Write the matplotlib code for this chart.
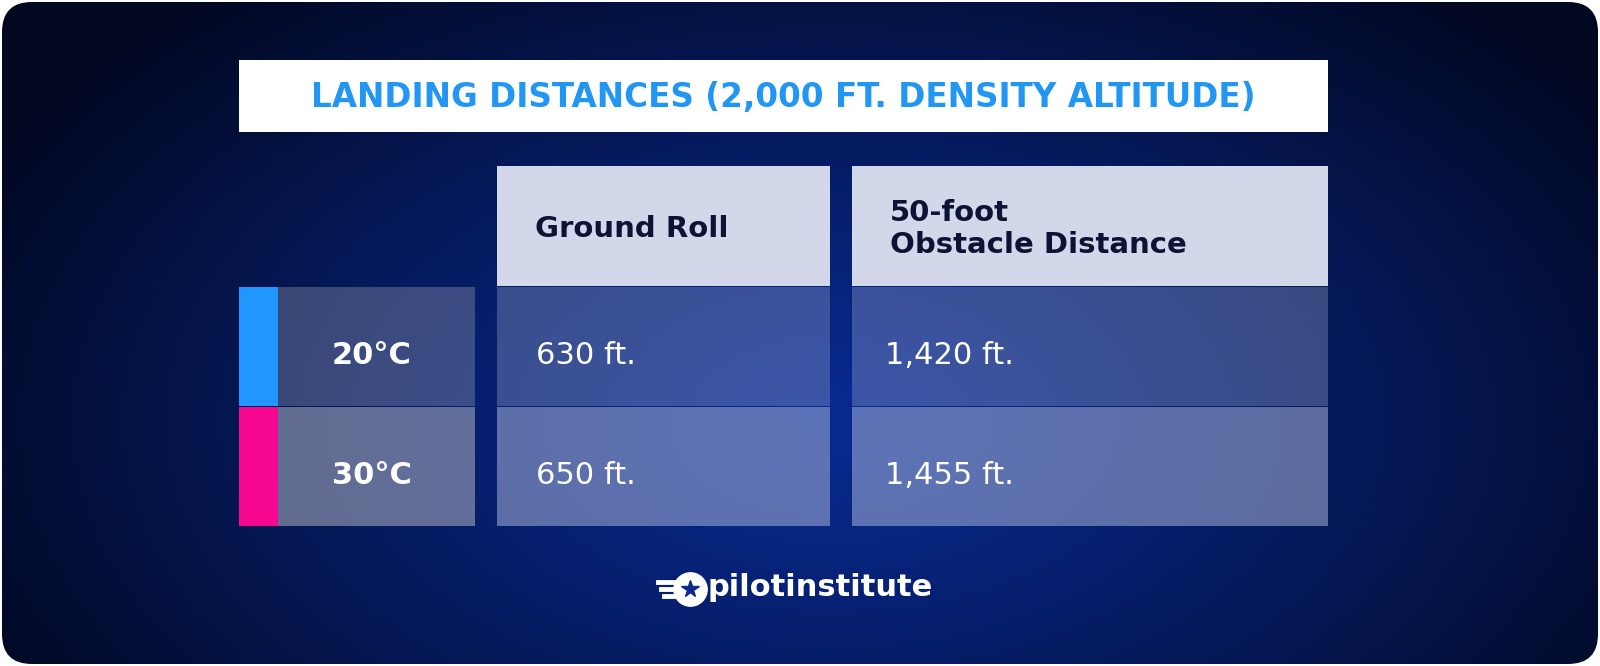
import numpy as np
import matplotlib
matplotlib.use("Agg")
import matplotlib.pyplot as plt
from matplotlib.patches import Rectangle, FancyBboxPatch

title = "LANDING DISTANCES (2,000 FT. DENSITY ALTITUDE)"
col_headers = ["Ground Roll", "50-foot\nObstacle Distance"]
row_labels = ["20°C", "30°C"]
row_colors = ["#2196ff", "#f5078f"]
ground_roll = ["630 ft.", "650 ft."]
obstacle = ["1,420 ft.", "1,455 ft."]
brand = "pilotinstitute"

W, H = 1600, 666
fig = plt.figure(figsize=(16, 6.66), dpi=100)
ax = fig.add_axes([0, 0, 1, 1])
ax.set_xlim(0, W); ax.set_ylim(H, 0); ax.axis("off")
fig.patch.set_facecolor("white")

# radial gradient background
yy, xx = np.mgrid[0:H, 0:W]
d = np.sqrt(((xx - 830) / 950) ** 2 + ((yy - 420) / 560) ** 2)
d = np.clip(d, 0, 1)
c_center = np.array([0x08, 0x2a, 0x90]) / 255
c_edge = np.array([0x02, 0x08, 0x22]) / 255
t = d[..., None] ** 1.2
img = c_center * (1 - t) + c_edge * t
im = ax.imshow(img, extent=(0, W, H, 0), zorder=0)
clip = FancyBboxPatch((2, 2), W - 4, H - 4, boxstyle="round,pad=0,rounding_size=30",
                      transform=ax.transData, facecolor="none", edgecolor="none")
ax.add_patch(clip)
im.set_clip_path(clip)

# title
ax.add_patch(Rectangle((239, 60), 1089, 72, facecolor="white", zorder=2))
ax.text(783, 98, title, color="#2196f3", fontsize=23.5, fontweight="bold",
        ha="center", va="center", family="DejaVu Sans", zorder=3)

# headers
hx = [(497, 333), (852, 476)]
for (x, w), lab in zip(hx, col_headers):
    ax.add_patch(Rectangle((x, 166), w, 120, facecolor="#d2d8ea", zorder=2))
    ax.text(x + 38, 229, lab, color="#0d1333", fontsize=21, fontweight="bold",
            ha="left", va="center", linespacing=1.2, zorder=3)

# rows
ry = [287, 407]
alphas = [0.28, 0.48]
for i in range(2):
    y = ry[i]
    ax.add_patch(Rectangle((239, y), 39, 119, facecolor=row_colors[i], zorder=2))
    ax.add_patch(Rectangle((278, y), 197, 119, facecolor="#c8c8d0", alpha=alphas[i], zorder=2))
    for (x, w) in hx:
        ax.add_patch(Rectangle((x, y), w, 119, facecolor="#b4bee0", alpha=alphas[i] + 0.02, zorder=2))
    ax.text(372, y + 69, row_labels[i], color="white", fontsize=22, fontweight="bold",
            ha="center", va="center", zorder=3)
    ax.text(536, y + 69, ground_roll[i], color="white", fontsize=22,
            ha="left", va="center", zorder=3)
    ax.text(885, y + 69, obstacle[i], color="white", fontsize=22,
            ha="left", va="center", zorder=3)

# logo
ax.plot([690], [589], marker="o", markersize=24, color="white", zorder=3)
ax.plot([690], [589], marker="*", markersize=13, color="#0a2a8c", zorder=4)
for k, yo in enumerate([-7, 0, 7]):
    ax.plot([658 + 3 * k, 676], [589 + yo, 589 + yo], color="white", lw=3.5, zorder=3)
ax.text(708, 587, brand, color="white", fontsize=22, fontweight="bold",
        ha="left", va="center", zorder=3)

fig.savefig("out.png", dpi=100, facecolor="white")
